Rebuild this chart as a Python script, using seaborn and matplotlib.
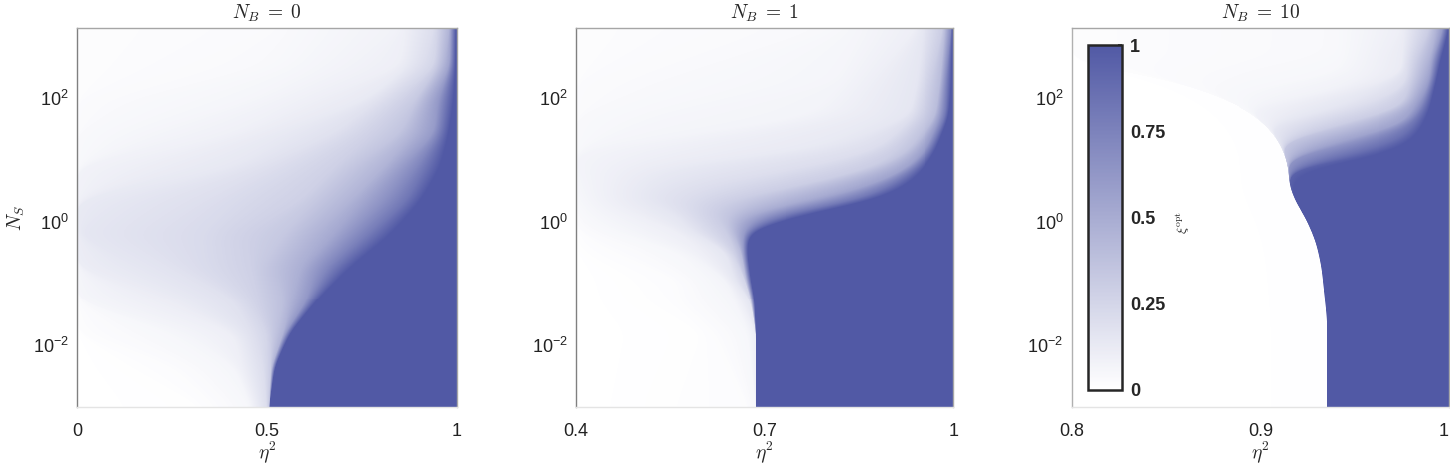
import numpy as np
import seaborn as sns
import matplotlib.pyplot as plt
from matplotlib.colors import LinearSegmentedColormap

# log10(N_S) range of every panel
LOG_NS_TOP = 3.13
LOG_NS_BOTTOM = -3.0

NB_VALUES = ["0", "1", "10"]
X_LIMITS = [(0.0, 1.0), (0.4, 1.0), (0.8, 1.0)]
X_TICKS = [[0, 0.5, 1], [0.4, 0.7, 1], [0.8, 0.9, 1]]
X_TICKLABELS = [["0", "0.5", "1"], ["0.4", "0.7", "1"], ["0.8", "0.9", "1"]]
Y_TICKS = [-2, 0, 2]
CBAR_TICKS = [0, 0.25, 0.5, 0.75, 1]
CBAR_TICKLABELS = ["0", "0.25", "0.5", "0.75", "1"]

# xi_opt read along rows of constant N_S: eta^2 positions and the value there
nb0_logns = [3.13, 2.5, 1.97, 1.43, 0.89, 0.35, -0.19, -0.73, -1.27, -1.80, -2.34, -3.0]
nb0_eta = [
    [0.0, 0.5, 0.85, 0.94, 0.98, 0.997, 1.0],
    [0.0, 0.5, 0.85, 0.94, 0.98, 0.996, 1.0],
    [0.0, 0.45, 0.76, 0.89, 0.95, 0.991, 1.0],
    [0.0, 0.41, 0.675, 0.85, 0.94, 0.978, 1.0],
    [0.0, 0.41, 0.675, 0.807, 0.894, 0.956, 1.0],
    [0.0, 0.323, 0.587, 0.719, 0.807, 0.868, 0.905, 1.0],
    [0.0, 0.323, 0.543, 0.675, 0.763, 0.827, 1.0],
    [0.0, 0.236, 0.455, 0.587, 0.657, 0.719, 1.0],
    [0.0, 0.236, 0.411, 0.543, 0.604, 0.631, 1.0],
    [0.0, 0.236, 0.411, 0.499, 0.543, 0.561, 1.0],
    [0.0, 0.236, 0.411, 0.49, 0.51, 0.5211, 1.0],
    [0.0, 0.323, 0.455, 0.499, 0.5055, 0.506, 1.0],
]
nb0_xi = [
    [0.02, 0.03, 0.08, 0.2, 0.45, 1.0, 1.0],
    [0.02, 0.04, 0.1, 0.25, 0.55, 1.0, 1.0],
    [0.03, 0.06, 0.13, 0.32, 0.62, 1.0, 1.0],
    [0.04, 0.09, 0.18, 0.35, 0.6, 1.0, 1.0],
    [0.08, 0.14, 0.28, 0.45, 0.72, 1.0, 1.0],
    [0.13, 0.19, 0.28, 0.45, 0.65, 0.82, 1.0, 1.0],
    [0.15, 0.22, 0.33, 0.52, 0.77, 1.0, 1.0],
    [0.11, 0.17, 0.28, 0.48, 0.72, 1.0, 1.0],
    [0.06, 0.11, 0.18, 0.38, 0.62, 1.0, 1.0],
    [0.02, 0.05, 0.1, 0.25, 0.45, 1.0, 1.0],
    [0.0, 0.02, 0.06, 0.2, 0.3, 1.0, 1.0],
    [0.0, 0.01, 0.05, 0.2, 0.35, 1.0, 1.0],
]

nb1_logns = [3.13, 2.24, 1.70, 1.16, 0.89, 0.62, 0.35, 0.14, -0.13, -0.46, -0.94, -1.27, -1.80, -3.0]
nb1_eta = [
    [0.4, 0.809, 0.942, 0.984, 0.997, 0.999, 1.0],
    [0.4, 0.809, 0.942, 0.979, 0.997, 1.0],
    [0.4, 0.559, 0.771, 0.93, 0.972, 0.988, 0.993, 1.0],
    [0.4, 0.559, 0.771, 0.877, 0.93, 0.956, 0.972, 1.0],
    [0.4, 0.559, 0.771, 0.877, 0.93, 0.955, 1.0],
    [0.4, 0.559, 0.65, 0.771, 0.877, 0.93, 1.0],
    [0.4, 0.559, 0.638, 0.771, 0.85, 0.877, 1.0],
    [0.4, 0.559, 0.638, 0.7, 0.771, 1.0],
    [0.4, 0.559, 0.638, 0.665, 0.676, 1.0],
    [0.4, 0.559, 0.638, 0.662, 0.672, 1.0],
    [0.4, 0.559, 0.638, 0.668, 0.678, 1.0],
    [0.4, 0.544, 0.65, 0.677, 0.684, 1.0],
    [0.4, 0.597, 0.672, 0.6855, 0.686, 1.0],
    [0.4, 0.672, 0.6855, 0.686, 1.0],
]
nb1_xi = [
    [0.02, 0.04, 0.1, 0.3, 0.7, 1.0, 1.0],
    [0.03, 0.06, 0.15, 0.4, 1.0, 1.0],
    [0.04, 0.06, 0.07, 0.15, 0.4, 0.8, 1.0, 1.0],
    [0.07, 0.1, 0.13, 0.2, 0.35, 0.6, 1.0, 1.0],
    [0.07, 0.14, 0.2, 0.3, 0.55, 1.0, 1.0],
    [0.06, 0.17, 0.22, 0.3, 0.55, 1.0, 1.0],
    [0.05, 0.2, 0.3, 0.5, 0.8, 1.0, 1.0],
    [0.04, 0.15, 0.35, 0.65, 1.0, 1.0],
    [0.03, 0.1, 0.3, 0.6, 1.0, 1.0],
    [0.01, 0.05, 0.15, 0.4, 1.0, 1.0],
    [0.0, 0.02, 0.07, 0.25, 1.0, 1.0],
    [0.0, 0.015, 0.06, 0.15, 1.0, 1.0],
    [0.0, 0.01, 0.05, 0.1, 1.0, 1.0],
    [0.0, 0.02, 0.05, 1.0, 1.0],
]

nb10_logns = [3.13, 2.65, 2.56, 2.37, 2.13, 1.84, 1.56, 1.29, 1.03, 0.87, 0.57, 0.30, 0.14,
              -0.08, -0.35, -0.73, -1.26, -1.59, -3.0]
nb10_eta = [
    [0.8, 0.94, 0.975, 0.99, 0.997, 1.0],
    [0.8, 0.94, 0.975, 0.99, 0.996, 1.0],
    [0.8, 0.8005, 0.94, 0.975, 0.99, 0.995, 1.0],
    [0.8, 0.84, 0.8405, 0.94, 0.975, 0.99, 0.994, 1.0],
    [0.8, 0.869, 0.8695, 0.94, 0.975, 0.988, 0.992, 1.0],
    [0.8, 0.891, 0.8915, 0.94, 0.975, 0.985, 0.99, 1.0],
    [0.8, 0.903, 0.9035, 0.94, 0.975, 0.98, 0.986, 1.0],
    [0.8, 0.91, 0.9105, 0.94, 0.972, 0.98, 1.0],
    [0.8, 0.9135, 0.914, 0.94, 0.96, 1.0],
    [0.8, 0.9148, 0.9152, 0.925, 1.0],
    [0.8, 0.9153, 0.9157, 1.0],
    [0.8, 0.919, 0.9194, 1.0],
    [0.8, 0.9224, 0.9228, 1.0],
    [0.8, 0.926, 0.9264, 1.0],
    [0.8, 0.9295, 0.9299, 1.0],
    [0.8, 0.9322, 0.9326, 1.0],
    [0.8, 0.934, 0.9344, 1.0],
    [0.8, 0.9351, 0.9355, 1.0],
    [0.8, 0.9351, 0.9355, 1.0],
]
nb10_xi = [
    [0.02, 0.04, 0.1, 0.3, 0.6, 1.0],
    [0.02, 0.04, 0.12, 0.45, 1.0, 1.0],
    [0.0, 0.02, 0.045, 0.12, 0.5, 1.0, 1.0],
    [0.0, 0.0, 0.03, 0.05, 0.12, 0.55, 1.0, 1.0],
    [0.0, 0.0, 0.04, 0.08, 0.2, 0.6, 1.0, 1.0],
    [0.0, 0.0, 0.08, 0.15, 0.3, 0.7, 1.0, 1.0],
    [0.0, 0.0, 0.15, 0.3, 0.55, 0.8, 1.0, 1.0],
    [0.0, 0.0, 0.35, 0.55, 0.85, 1.0, 1.0],
    [0.0, 0.0, 0.65, 0.85, 1.0, 1.0],
    [0.0, 0.0, 0.95, 1.0, 1.0],
    [0.0, 0.0, 1.0, 1.0],
    [0.0, 0.0, 1.0, 1.0],
    [0.0, 0.0, 1.0, 1.0],
    [0.0, 0.0, 1.0, 1.0],
    [0.0, 0.0, 1.0, 1.0],
    [0.0, 0.0, 1.0, 1.0],
    [0.0, 0.0, 1.0, 1.0],
    [0.0, 0.0, 1.0, 1.0],
    [0.0, 0.0, 1.0, 1.0],
]

PANELS = [
    (nb0_logns, nb0_eta, nb0_xi),
    (nb1_logns, nb1_eta, nb1_xi),
    (nb10_logns, nb10_eta, nb10_xi),
]


def xi_field(logns, eta, xi, x_grid, y_grid, smooth=7):
    # follow the iso-xi lines from row to row so the sharp edges stay sharp
    levels = np.linspace(0, 1, 201)
    tiny = 1e-7
    pos = np.array([
        np.interp(levels, np.asarray(v, float) + tiny * np.arange(len(v)), e)
        for e, v in zip(eta, xi)
    ])
    order = np.argsort(logns)
    ys = np.asarray(logns)[order]
    pos = pos[order]
    pos_y = np.column_stack([np.interp(y_grid, ys, pos[:, k]) for k in range(len(levels))])

    # round off the corners left by the row readings
    r = 3 * smooth
    kernel = np.exp(-0.5 * (np.arange(-r, r + 1) / smooth) ** 2)
    kernel /= kernel.sum()
    pos_y = np.column_stack([
        np.convolve(np.pad(pos_y[:, k], r, mode="edge"), kernel, mode="valid")
        for k in range(len(levels))
    ])

    ramp = tiny * np.arange(len(levels))
    return np.array([np.interp(x_grid, p + ramp, levels) for p in pos_y])


def main():
    sns.set_style("white")
    plt.rcParams["font.family"] = ["Liberation Sans", "DejaVu Sans"]
    plt.rcParams["mathtext.fontset"] = "cm"

    cmap = LinearSegmentedColormap.from_list("xi", ["#ffffff", "#5159a5"])
    fig = plt.figure(figsize=(14.5, 4.67), dpi=100)

    lefts = [77.3, 576.0, 1071.7]
    rights = [456.7, 953.3, 1449.0]
    top, bottom = 28.0, 407.3
    W, H = 1450.0, 467.0
    nx, ny = 380, 380

    for i, (logns, eta, xi) in enumerate(PANELS):
        ax = fig.add_axes([lefts[i] / W, 1 - bottom / H,
                           (rights[i] - lefts[i]) / W, (bottom - top) / H])
        x0, x1 = X_LIMITS[i]
        x_grid = x0 + (np.arange(nx) + 0.5) * (x1 - x0) / nx
        y_grid = LOG_NS_TOP - (np.arange(ny) + 0.5) * (LOG_NS_TOP - LOG_NS_BOTTOM) / ny
        field = xi_field(logns, eta, xi, x_grid, y_grid)

        cax = None
        if i == 2:
            cax = fig.add_axes([1088 / W, 1 - 390 / H, 34 / W, 345 / H])
        sns.heatmap(field, ax=ax, cmap=cmap, vmin=0, vmax=1,
                    cbar=cax is not None, cbar_ax=cax,
                    xticklabels=False, yticklabels=False, rasterized=True)

        ax.set_xticks([(t - x0) / (x1 - x0) * nx for t in X_TICKS[i]])
        ax.set_xticklabels(X_TICKLABELS[i])
        ax.set_yticks([(LOG_NS_TOP - t) / (LOG_NS_TOP - LOG_NS_BOTTOM) * ny for t in Y_TICKS])
        ax.set_yticklabels([r"$\mathregular{10^{%d}}$" % t for t in Y_TICKS], rotation=0)
        ax.tick_params(axis="both", length=0, labelsize=13, colors="#222222")
        ax.tick_params(axis="x", pad=11)
        ax.tick_params(axis="y", pad=6)
        if i == 2:
            # the last label sits on the figure edge
            ax.get_xticklabels()[-1].set_horizontalalignment("right")

        for side, color in [("left", "#808080"), ("top", "#a6a6a6"),
                            ("right", "#a6a6a6"), ("bottom", "#e4e4e4")]:
            ax.spines[side].set_visible(True)
            ax.spines[side].set_color(color if i < 2 or side != "left" else "#b0b0b0")
            ax.spines[side].set_linewidth(1.0)

        ax.set_title(r"$N_B \;=\; %s$" % NB_VALUES[i], fontsize=14, pad=7)
        ax.set_xlabel(r"$\eta^2$", fontsize=14, labelpad=0)
        if i == 0:
            ax.set_ylabel(r"$N_S$", fontsize=14, labelpad=4)

        if cax is not None:
            cbar = ax.collections[0].colorbar
            cbar.set_ticks(CBAR_TICKS)
            cbar.set_ticklabels(CBAR_TICKLABELS)
            cbar.outline.set_visible(True)
            cbar.outline.set_linewidth(1.8)
            cbar.outline.set_edgecolor("#262626")
            cax.tick_params(direction="in", length=3, width=1.2, colors="#262626",
                            labelsize=13, pad=6)
            for lab in cax.get_yticklabels():
                lab.set_fontweight("bold")
            fig.text(1183 / W, 1 - 222 / H, r"$\xi^{\mathrm{opt}}$", rotation=90,
                     fontsize=10, ha="center", va="center")

    fig.savefig("out.png", dpi=100)
    plt.close(fig)


if __name__ == "__main__":
    main()
